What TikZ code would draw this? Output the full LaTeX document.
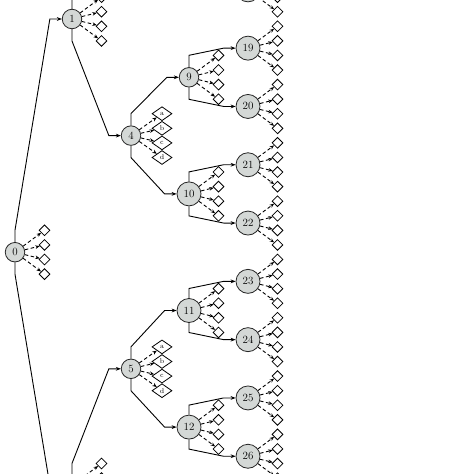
\documentclass[tikz,border=0pt]{standalone}
\usetikzlibrary{shapes.geometric,arrows.meta,calc}
\definecolor{nodefill}{RGB}{212,216,214}
\tikzset{
  tn/.style={circle,draw=black!85,fill=nodefill,line width=0.8pt,inner sep=1pt,minimum size=19.5pt,font=\fontsize{11}{12}\selectfont},
  tnw/.style={tn,minimum size=24pt},
  leafd/.style={diamond,draw,line width=0.8pt,minimum width=11pt,minimum height=11pt,inner sep=0pt},
  leafl/.style={diamond,draw,line width=0.8pt,minimum width=20pt,minimum height=14pt,inner sep=0pt,font=\fontsize{7}{8}\selectfont},
  leafarr/.style={dash pattern=on 3.5pt off 2.5pt,line width=0.9pt,-{Stealth[length=4.5pt,width=3.6pt]}},
  treeedge/.style={line width=0.9pt,-{Stealth[length=5pt,width=3.8pt]}},
}
\newcommand\myup[2]{\draw[treeedge] (#1.north) -- ($(#1)+(0,-22)$) -- ($(#2.west)+(-12,0)$) -- (#2.west);}
\newcommand\mydown[2]{\draw[treeedge] (#1.south) -- ($(#1)+(0,22)$) -- ($(#2.west)+(-12,0)$) -- (#2.west);}
\newcommand\mylvs[1]{\foreach \k/\dy in {1/-21.9,2/-7.3,3/7.3,4/21.9}{\node[leafd] (#1l\k) at ($(#1)+(29.5,\dy)$) {}; \draw[leafarr] (#1) -- (#1l\k);}}
\newcommand\mylvsl[1]{\foreach \k/\dy/\t in {1/-21.9/a,2/-7.3/b,3/7.3/c,4/21.9/d}{\node[leafl] (#1l\k) at ($(#1)+(31,\dy)$) {\t}; \draw[leafarr] (#1) -- (#1l\k);}}
\begin{document}
\begin{tikzpicture}[x=1pt,y=-1pt]
\useasboundingbox (0,0) rectangle (474,474);
\clip (0,0) rectangle (474,474);
% nodes
\node[tn] (n0) at (15,252.2) {0};
\node[tn] (n1) at (72,19) {1};
\node[tn] (n2) at (72,485.4) {2};
\coordinate (n3) at (131,-97.6);
\node[tn] (n4) at (131,135.6) {4};
\node[tn] (n5) at (131,368.8) {5};
\node[tn] (n9) at (189,77.3) {9};
\node[tnw] (n10) at (189,193.9) {10};
\node[tnw] (n11) at (189,310.5) {11};
\node[tnw] (n12) at (189,427.1) {12};
\node[tnw] (n18) at (248,-10.15) {18};
\node[tnw] (n19) at (248,48.15) {19};
\node[tnw] (n20) at (248,106.45) {20};
\node[tnw] (n21) at (248,164.75) {21};
\node[tnw] (n22) at (248,223.05) {22};
\node[tnw] (n23) at (248,281.35) {23};
\node[tnw] (n24) at (248,339.65) {24};
\node[tnw] (n25) at (248,397.95) {25};
\node[tnw] (n26) at (248,456.25) {26};
% tree edges
\myup{n0}{n1}
\mydown{n0}{n2}
\draw[treeedge] (n1.north) -- ($(n1)+(0,-22)$) -- ($(n3)+(-22,0)$) -- (n3);
\mydown{n1}{n4}
\myup{n2}{n5}
\myup{n4}{n9}
\mydown{n4}{n10}
\myup{n5}{n11}
\mydown{n5}{n12}
\myup{n9}{n19}
\mydown{n9}{n20}
\myup{n10}{n21}
\mydown{n10}{n22}
\myup{n11}{n23}
\mydown{n11}{n24}
\myup{n12}{n25}
\mydown{n12}{n26}
% leaves
\mylvs{n0}
\mylvs{n1}
\mylvs{n2}
\mylvsl{n4}
\mylvsl{n5}
\mylvs{n9}
\mylvs{n10}
\mylvs{n11}
\mylvs{n12}
\mylvs{n18}
\mylvs{n19}
\mylvs{n20}
\mylvs{n21}
\mylvs{n22}
\mylvs{n23}
\mylvs{n24}
\mylvs{n25}
\mylvs{n26}
\end{tikzpicture}
\end{document}
